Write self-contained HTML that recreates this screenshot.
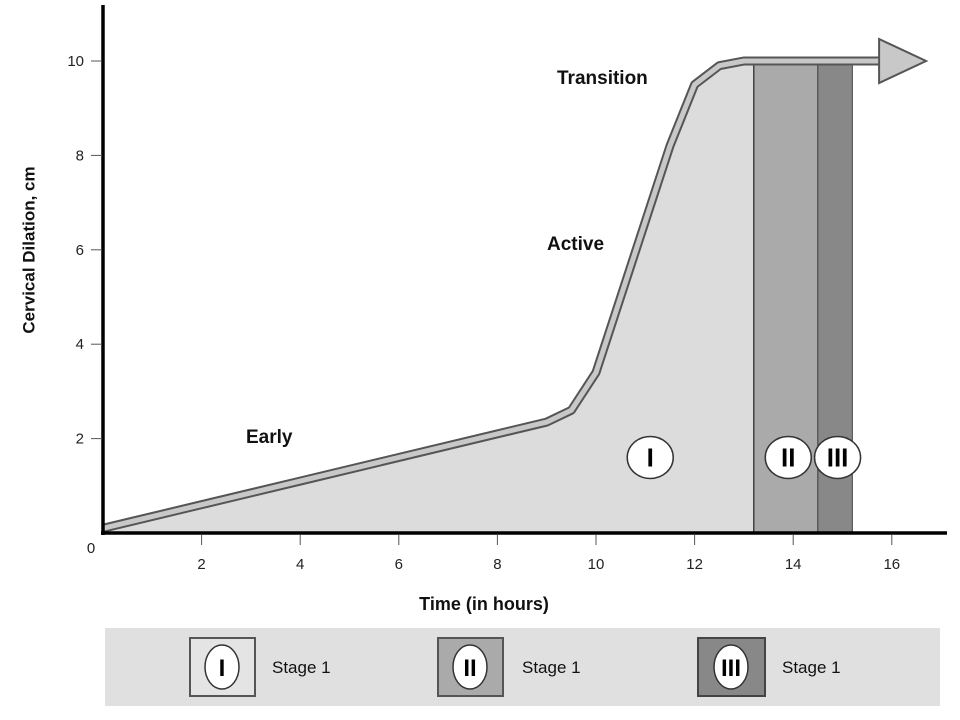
<!DOCTYPE html>
<html><head><meta charset="utf-8"><style>
html,body{margin:0;padding:0;background:#fff;}
svg{display:block;font-family:"Liberation Sans",Arial,sans-serif;}
</style></head><body>
<svg id="chart" width="960" height="720" viewBox="0 0 960 720">
<g id="plot"></g>
<g id="axes"></g>
<text x="30" y="250" transform="rotate(-90 30 250)" text-anchor="middle" dominant-baseline="middle" font-size="17" font-weight="bold" fill="#111">Cervical Dilation, cm</text>
<text x="484" y="610" text-anchor="middle" font-size="18" font-weight="bold" fill="#111">Time (in hours)</text>
<g>
<rect x="105" y="628" width="835" height="78" fill="#e0e0e0"/>
<g>
<rect x="190" y="638" width="65" height="58" fill="#e4e4e4" stroke="#555" stroke-width="2"/>
<ellipse cx="222" cy="667" rx="17" ry="22" fill="#fff" stroke="#333" stroke-width="1.5"/>
<text x="222" y="676" text-anchor="middle" font-size="24" font-weight="bold">I</text>
<text x="272" y="673" font-size="17" fill="#111">Stage 1</text></g>
<g>
<rect x="438" y="638" width="65" height="58" fill="#aaa" stroke="#555" stroke-width="2"/>
<ellipse cx="470" cy="667" rx="17" ry="22" fill="#fff" stroke="#333" stroke-width="1.5"/>
<text x="470" y="676" text-anchor="middle" font-size="24" font-weight="bold">II</text>
<text x="522" y="673" font-size="17" fill="#111">Stage 1</text></g>
<g>
<rect x="698" y="638" width="67" height="58" fill="#888" stroke="#444" stroke-width="2"/>
<ellipse cx="731" cy="667" rx="17" ry="22" fill="#fff" stroke="#333" stroke-width="1.5"/>
<text x="731" y="676" text-anchor="middle" font-size="24" font-weight="bold">III</text>
<text x="782" y="673" font-size="17" fill="#111">Stage 1</text></g>
</g>
</svg>
<script>
const hours=[0,2,4,6,8,9,9.5,10,10.5,11,11.5,12,12.5,13,13.2];
const dilation=[0.1,0.6,1.1,1.6,2.1,2.35,2.6,3.4,5.0,6.6,8.2,9.5,9.9,10,10];
const stageStarts=[0,13.2,14.5];
const stageEnds=[13.2,14.5,15.2];
const stageLabels=["I","II","III"];
const stageLabelX=[11.1,13.9,14.9];
const stageLabelY=1.6;
const xTicks=[2,4,6,8,10,12,14,16];
const yTicks=[2,4,6,8,10];
const arrowEnd=17;
const NS="http://www.w3.org/2000/svg";
const X=h=>103+h*49.3;
const Y=v=>533-v*47.2;
function mk(tag,attrs,parent){const e=document.createElementNS(NS,tag);for(const k in attrs)e.setAttribute(k,attrs[k]);parent.appendChild(e);return e;}
const plot=document.getElementById('plot'),axes=document.getElementById('axes');
const fills=['#dcdcdc','#aaaaaa','#888888'];
// stage I area under curve
let d='M'+X(0)+','+Y(0);
hours.forEach((h,i)=>{d+=' L'+X(h)+','+Y(dilation[i]);});
d+=' L'+X(stageEnds[0])+','+Y(0)+' Z';
const a=mk('path',{d:d,fill:fills[0],stroke:'none'},plot);


for(let i=1;i<stageStarts.length;i++){
 const r=mk('rect',{x:X(stageStarts[i]),y:Y(10),width:X(stageEnds[i])-X(stageStarts[i]),height:Y(0)-Y(10),fill:fills[i],stroke:'#444','stroke-width':1},plot);
 
 
}
mk('line',{x1:X(stageEnds[0]),y1:Y(10),x2:X(stageEnds[0]),y2:Y(0),stroke:'#444','stroke-width':1.5},plot);
// curve line
let ld='M'+X(hours[0])+','+Y(dilation[0]);
for(let i=1;i<hours.length;i++) ld+=' L'+X(hours[i])+','+Y(dilation[i]);
ld+=' L'+(X(arrowEnd)-62)+','+Y(10);
const o=mk('path',{d:ld,fill:'none',stroke:'#555','stroke-width':9,'stroke-linejoin':'round'},plot);


const l=mk('path',{d:ld,fill:'none',stroke:'#c8c8c8','stroke-width':5,'stroke-linejoin':'round'},plot);


const ax=X(arrowEnd)-62,ay=Y(10);
const ar=mk('polygon',{points:(ax)+','+(ay-22)+' '+(X(arrowEnd)-15)+','+ay+' '+ax+','+(ay+22),fill:'#c8c8c8',stroke:'#555','stroke-width':2},plot);


stageLabels.forEach((s,i)=>{
 const g=mk('g',{},plot);
 
 
 mk('ellipse',{cx:X(stageLabelX[i]),cy:Y(stageLabelY),rx:23,ry:21,fill:'#fff',stroke:'#333','stroke-width':1.5},g);
 const t=mk('text',{x:X(stageLabelX[i]),y:Y(stageLabelY)+9,'text-anchor':'middle','font-size':26,'font-weight':'bold'},g);t.textContent=s;
});
[['Transition',557,84,true],['Active',547,250,true],['Early',246,443,false]].forEach(p=>{
 const t=mk('text',{x:p[1],y:p[2],'font-size':19,'font-weight':'bold',fill:'#111'},plot);
 t.textContent=p[0];
 
 
});
// axes
mk('line',{x1:103,y1:5,x2:103,y2:535,stroke:'#000','stroke-width':3.5},axes);
mk('line',{x1:101,y1:533,x2:947,y2:533,stroke:'#000','stroke-width':3.5},axes);
xTicks.forEach(v=>{
 mk('line',{x1:X(v),y1:535,x2:X(v),y2:545,stroke:'#555','stroke-width':1},axes);
 const t=mk('text',{x:X(v),y:569,'text-anchor':'middle','font-size':15,fill:'#222'},axes);t.textContent=v;
 
 
});
yTicks.forEach(v=>{
 mk('line',{x1:91,y1:Y(v),x2:102,y2:Y(v),stroke:'#555','stroke-width':1},axes);
 const t=mk('text',{x:84,y:Y(v)+5,'text-anchor':'end','font-size':15,fill:'#222'},axes);t.textContent=v;
 
 
});
const z=mk('text',{x:91,y:553,'text-anchor':'middle','font-size':15,fill:'#222'},axes);z.textContent='0';


</script>
</body></html>
